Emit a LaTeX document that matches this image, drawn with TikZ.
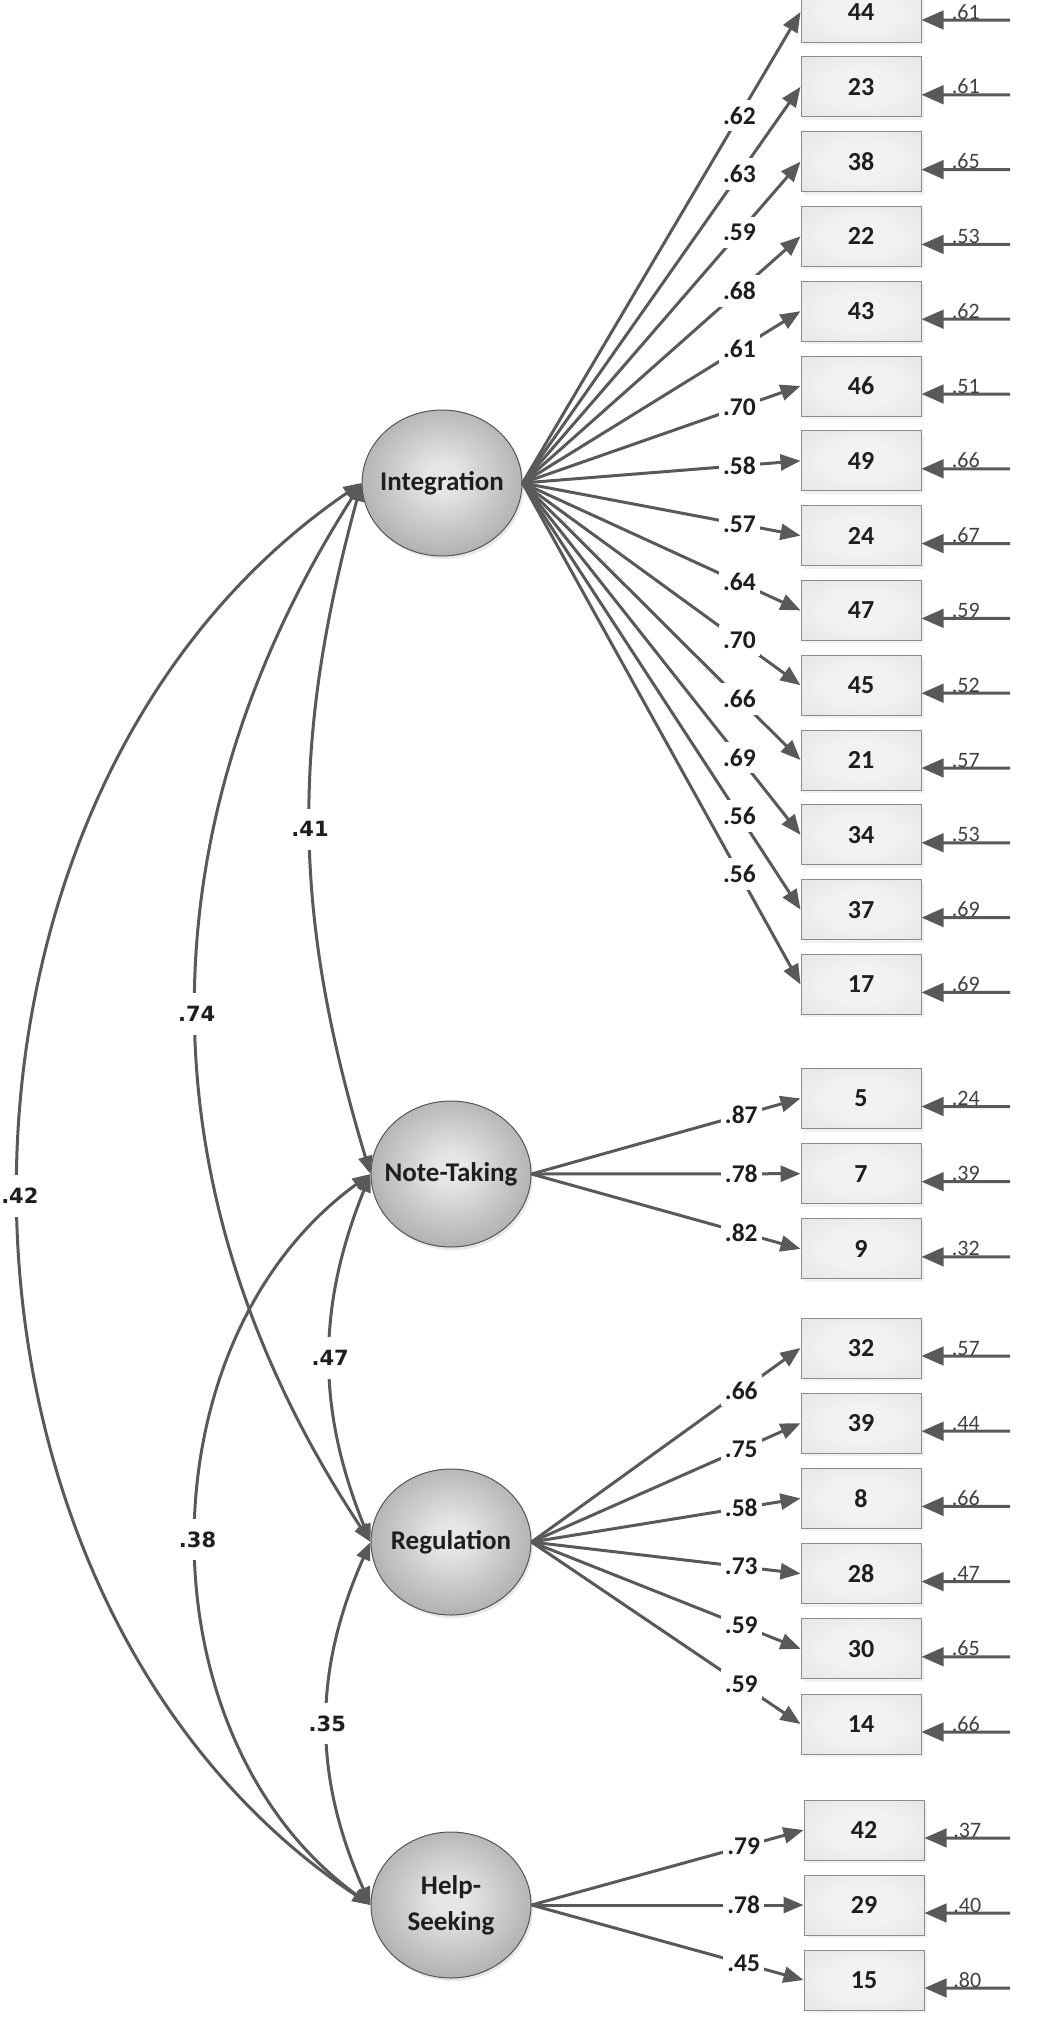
\documentclass[tikz,border=0pt]{standalone}
\usepackage{fontspec}
\setmainfont{Carlito}
\newfontfamily\corrfont{DejaVu Sans}
\usetikzlibrary{arrows.meta,shapes.geometric,shadows}
\definecolor{pathgray}{HTML}{595959}
\definecolor{txtdark}{HTML}{1E1E1E}
\definecolor{boxedge}{HTML}{8C8C8C}
\definecolor{boxlight}{HTML}{F2F2F2}
\definecolor{boxdark}{HTML}{D0D0D0}
\definecolor{latlight}{HTML}{E6E6E6}
\definecolor{latmid}{HTML}{ADADAD}
\definecolor{latdark}{HTML}{8A8A8A}
\definecolor{latedge}{HTML}{555555}

\pgfdeclareradialshading{latentshade}{\pgfpoint{0bp}{2bp}}{color(0bp)=(latlight); color(5bp)=(latlight); color(28bp)=(latmid); color(50bp)=(latdark); color(75bp)=(latdark)}
\pgfdeclareradialshading{itemshade}{\pgfpoint{0bp}{0bp}}{color(0bp)=(boxlight); color(15bp)=(boxlight); color(72bp)=(boxdark)}

\begin{document}
\begin{tikzpicture}[x=0.4pt,y=-0.4pt,
  latent/.style={ellipse,draw=latedge,line width=.4pt,shading=latentshade,
    minimum width=64pt,minimum height=58.4pt,inner sep=0pt,text=txtdark,
    font=\bfseries\fontsize{10.8}{14.4}\selectfont,
    drop shadow={shadow xshift=.8pt,shadow yshift=-1.2pt,opacity=.18}},
  item/.style={rectangle,draw=boxedge,line width=.4pt,shading=itemshade,
    minimum width=48pt,minimum height=24pt,inner sep=0pt,text=txtdark,
    font=\bfseries\fontsize{10.4}{12}\selectfont,
    drop shadow={shadow xshift=1.2pt,shadow yshift=-1.2pt,opacity=.12}},
  load/.style={pathgray,line width=1.2pt,-{Triangle[length=8pt,width=6.4pt]}},
  resid/.style={pathgray,line width=1.2pt,-{Triangle[length=8.8pt,width=7.4pt]}},
  corr/.style={pathgray,line width=1.2pt,
    {Triangle[length=7.2pt,width=5.6pt]}-{Triangle[length=7.2pt,width=5.6pt]}},
  loadlab/.style={fill=white,inner xsep=1.6pt,inner ysep=2.8pt,text=txtdark,
    font=\bfseries\fontsize{10.2}{12}\selectfont},
  corrlab/.style={fill=white,inner xsep=1.2pt,inner ysep=5.2pt,text=txtdark,
    font=\corrfont\bfseries\fontsize{8.4}{10}\selectfont},
  errlab/.style={anchor=base,inner sep=0pt,yshift=.4pt,text=txtdark!85,
    font=\fontsize{8.8}{10}\selectfont}]

  \useasboundingbox (0,0) rectangle (1051,2033);

  \def\bx{861}   % item column
  \def\ex{1010}  % free end of error arrows
  \def\eoff{8}   % error arrows sit a little below box centre

  % =====================================================================
  % latent factors
  % =====================================================================
  \node[latent] (integ) at (442,483)  {\makebox[0pt]{Integration}};
  \node[latent] (note)  at (451,1174) {\makebox[0pt]{Note-Taking}};
  \node[latent] (regul) at (451,1542) {\makebox[0pt]{Regulation}};
  \node[latent] (helps) at (451,1905)
        {\makebox[0pt]{\begin{tabular}{@{}c@{}}Help-\\Seeking\end{tabular}}};

  % =====================================================================
  % Integration: 14 items
  % =====================================================================
  \foreach \q/\err [count=\k from 0] in {44/.61, 23/.61, 38/.65, 22/.53,
      43/.62, 46/.51, 49/.66, 24/.67, 47/.59, 45/.52, 21/.57, 34/.53,
      37/.69, 17/.69} {
    \node[item] (it\q) at (\bx,{12+74.8*\k}) {\q};
    \coordinate (ue\q) at (\ex,{12+\eoff+74.8*\k});
    \draw[resid] (ue\q) -- node[errlab,pos=0.5] {\err}
          ([yshift=-3.2pt]it\q.east);
    \draw[load] (integ.east) -- coordinate[pos=0.78] (ll\q) (it\q.west);
  }

  % =====================================================================
  % Note-Taking: 3 items
  % =====================================================================
  \foreach \q/\err [count=\k from 0] in {5/.24, 7/.39, 9/.32} {
    \node[item] (it\q) at (\bx,{1098.5+75.2*\k}) {\q};
    \coordinate (ue\q) at (\ex,{1098.5+\eoff+75.2*\k});
    \draw[resid] (ue\q) -- node[errlab,pos=0.5] {\err}
          ([yshift=-3.2pt]it\q.east);
    \draw[load] (note.east) -- coordinate[pos=0.78] (ll\q) (it\q.west);
  }

  % =====================================================================
  % Regulation: 6 items
  % =====================================================================
  \foreach \q/\err [count=\k from 0] in {32/.57, 39/.44, 8/.66, 28/.47,
      30/.65, 14/.66} {
    \node[item] (it\q) at (\bx,{1348+75.2*\k}) {\q};
    \coordinate (ue\q) at (\ex,{1348+\eoff+75.2*\k});
    \draw[resid] (ue\q) -- node[errlab,pos=0.5] {\err}
          ([yshift=-3.2pt]it\q.east);
    \draw[load] (regul.east) -- coordinate[pos=0.78] (ll\q) (it\q.west);
  }

  % =====================================================================
  % Help-Seeking: 3 items
  % =====================================================================
  \foreach \q/\err [count=\k from 0] in {42/.37, 29/.40, 15/.80} {
    \node[item] (it\q) at (\bx+3,{1830+75*\k}) {\q};
    \coordinate (ue\q) at (\ex,{1830+\eoff+75*\k});
    \draw[resid] (ue\q) -- node[errlab,pos=0.5] {\err}
          ([yshift=-3.2pt]it\q.east);
    \draw[load] (helps.east) -- coordinate[pos=0.78] (ll\q) (it\q.west);
  }

  % loading labels (on top of all loading lines)
  \foreach \q/\lam in {44/.62, 23/.63, 38/.59, 22/.68, 43/.61, 46/.70,
      49/.58, 24/.57, 47/.64, 45/.70, 21/.66, 34/.69, 37/.56, 17/.56,
      5/.87, 7/.78, 9/.82,
      32/.66, 39/.75, 8/.58, 28/.73, 30/.59, 14/.59,
      42/.79, 29/.78, 15/.45}
    \node[loadlab] (lab\q) at (ll\q) {\lam};

  % =====================================================================
  % factor correlations
  % =====================================================================
  \draw[corr] (integ.west) to[bend right=16] node[corrlab] (c12) {.41} (note.west);
  \draw[corr] (integ.west) to[bend right=33] node[corrlab] (c13) {.74} (regul.west);
  \draw[corr] (integ.west) to[bend right=56] node[corrlab] (c14) {.42} (helps.west);
  \draw[corr] (note.west)  to[bend right=22] node[corrlab] (c23) {.47} (regul.west);
  \draw[corr] (note.west)  to[bend right=54] node[corrlab] (c24) {.38} (helps.west);
  \draw[corr] (regul.west) to[bend right=24] node[corrlab] (c34) {.35} (helps.west);

\end{tikzpicture}
\end{document}
